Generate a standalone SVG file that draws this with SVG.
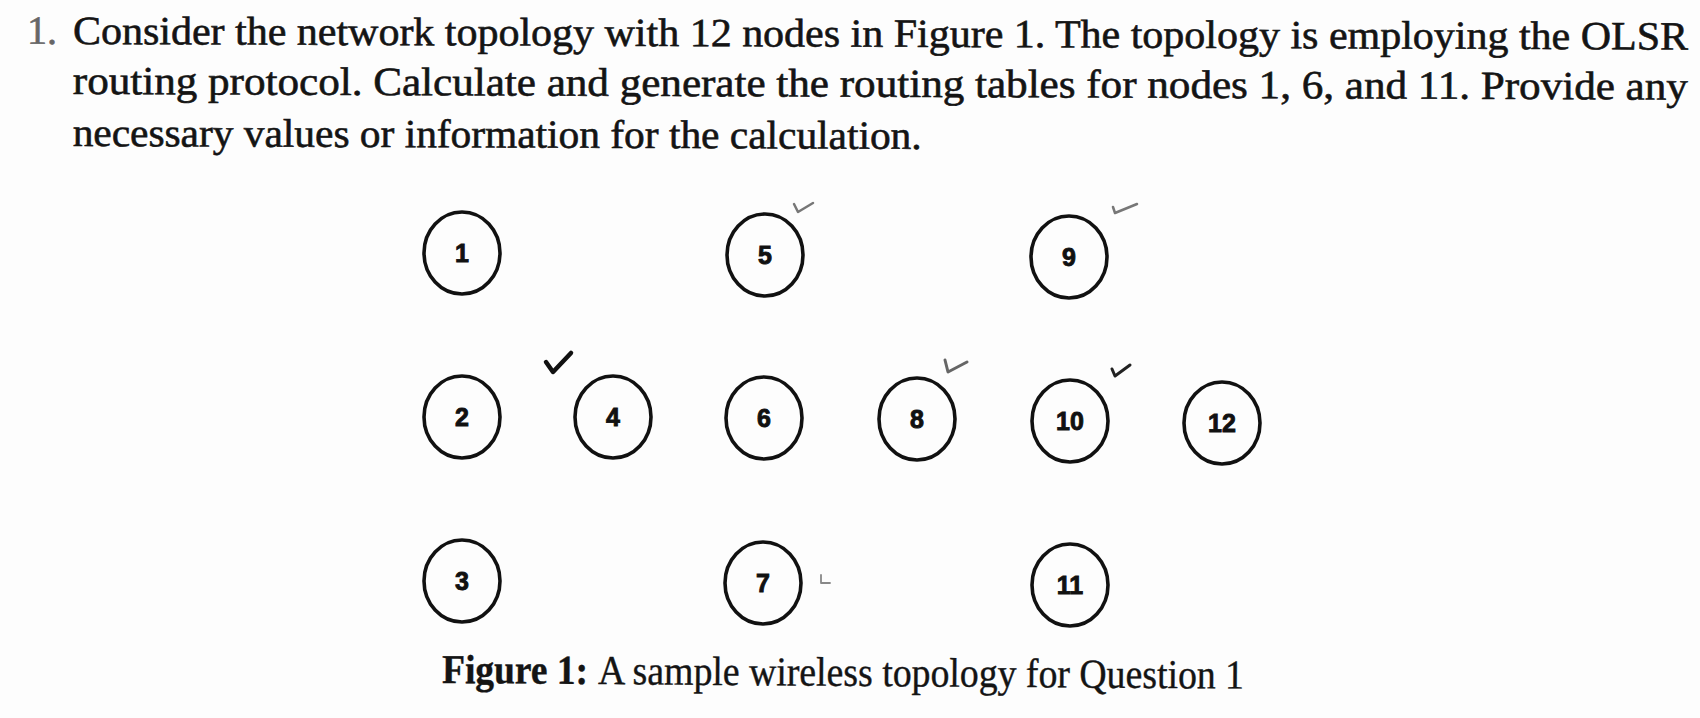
<svg xmlns="http://www.w3.org/2000/svg" width="1700" height="718" viewBox="0 0 1700 718">
<style>
.body{font-family:"Liberation Serif","DejaVu Serif",serif;font-size:40px;fill:#141414;stroke:#141414;stroke-width:0.6}
.cap{font-family:"Liberation Serif","DejaVu Serif",serif;font-size:41px;fill:#141414;stroke:#141414;stroke-width:0.4}
.node ellipse{fill:none;stroke:#111;stroke-width:3.6}
.node text{font-family:"Liberation Sans","DejaVu Sans",sans-serif;font-weight:bold;font-size:25px;fill:#111;stroke:#111;stroke-width:0.9;text-anchor:middle}
.tick{fill:none;stroke-linecap:round;stroke-linejoin:round}
</style>
<rect width="1700" height="718" fill="#fdfdfd"/>
<g id="question" transform="rotate(0.2 73 44)">
<text class="body" x="27" y="44" style="fill:#666;stroke:#666">1.</text>
<text class="body" x="73" y="44" textLength="1615" lengthAdjust="spacingAndGlyphs">Consider the network topology with 12 nodes in Figure 1. The topology is employing the OLSR</text>
<text class="body" x="73" y="94" textLength="1615" lengthAdjust="spacingAndGlyphs">routing protocol.  Calculate and generate the routing tables for nodes 1, 6, and 11.  Provide any</text>
<text class="body" x="73" y="146" textLength="849" lengthAdjust="spacingAndGlyphs">necessary values or information for the calculation.</text>
</g>
<g id="connectors"></g>
<g id="n1" class="node"><ellipse cx="462" cy="253" rx="38" ry="41"/><text x="462" y="262">1</text></g>
<g id="n5" class="node"><ellipse cx="765" cy="255" rx="38" ry="41"/><text x="765" y="264">5</text></g>
<g id="n9" class="node"><ellipse cx="1069" cy="257" rx="38" ry="41"/><text x="1069" y="266">9</text></g>
<g id="n2" class="node"><ellipse cx="462" cy="417" rx="38" ry="41"/><text x="462" y="426">2</text></g>
<g id="n4" class="node"><ellipse cx="613" cy="417" rx="38" ry="41"/><text x="613" y="426">4</text></g>
<g id="n6" class="node"><ellipse cx="764" cy="418" rx="38" ry="41"/><text x="764" y="427">6</text></g>
<g id="n8" class="node"><ellipse cx="917" cy="419" rx="38" ry="41"/><text x="917" y="428">8</text></g>
<g id="n10" class="node"><ellipse cx="1070" cy="421" rx="38" ry="41"/><text x="1070" y="430">10</text></g>
<g id="n12" class="node"><ellipse cx="1222" cy="423" rx="38" ry="41"/><text x="1222" y="432">12</text></g>
<g id="n3" class="node"><ellipse cx="462" cy="581" rx="38" ry="41"/><text x="462" y="590">3</text></g>
<g id="n7" class="node"><ellipse cx="763" cy="583" rx="38" ry="41"/><text x="763" y="592">7</text></g>
<g id="n11" class="node"><ellipse cx="1070" cy="585" rx="38" ry="41"/><text x="1070" y="594">11</text></g>
<g id="marks">
<path class="tick" d="M546 362 L553 372 L571 353" stroke="#111" stroke-width="4.5"/>
<path class="tick" d="M794 204 L798 212 L813 203" stroke="#777" stroke-width="2.5"/>
<path class="tick" d="M1113 207 L1115 213 L1137 204" stroke="#777" stroke-width="2.5"/>
<path class="tick" d="M945 360 L948 372 L967 362" stroke="#666" stroke-width="3"/>
<path class="tick" d="M1112 369 L1115 376 L1130 365" stroke="#222" stroke-width="3"/>
<path class="tick" d="M821 575 L821 583 L830 583" stroke="#888" stroke-width="1.8"/>
</g>
<g id="caption" transform="rotate(0.4 442 683)">
<text class="cap" x="442" y="683" font-weight="bold" textLength="146" lengthAdjust="spacingAndGlyphs">Figure 1:</text>
<text class="cap" x="598" y="683" textLength="646" lengthAdjust="spacingAndGlyphs">A sample wireless topology for Question 1</text>
</g>
</svg>
